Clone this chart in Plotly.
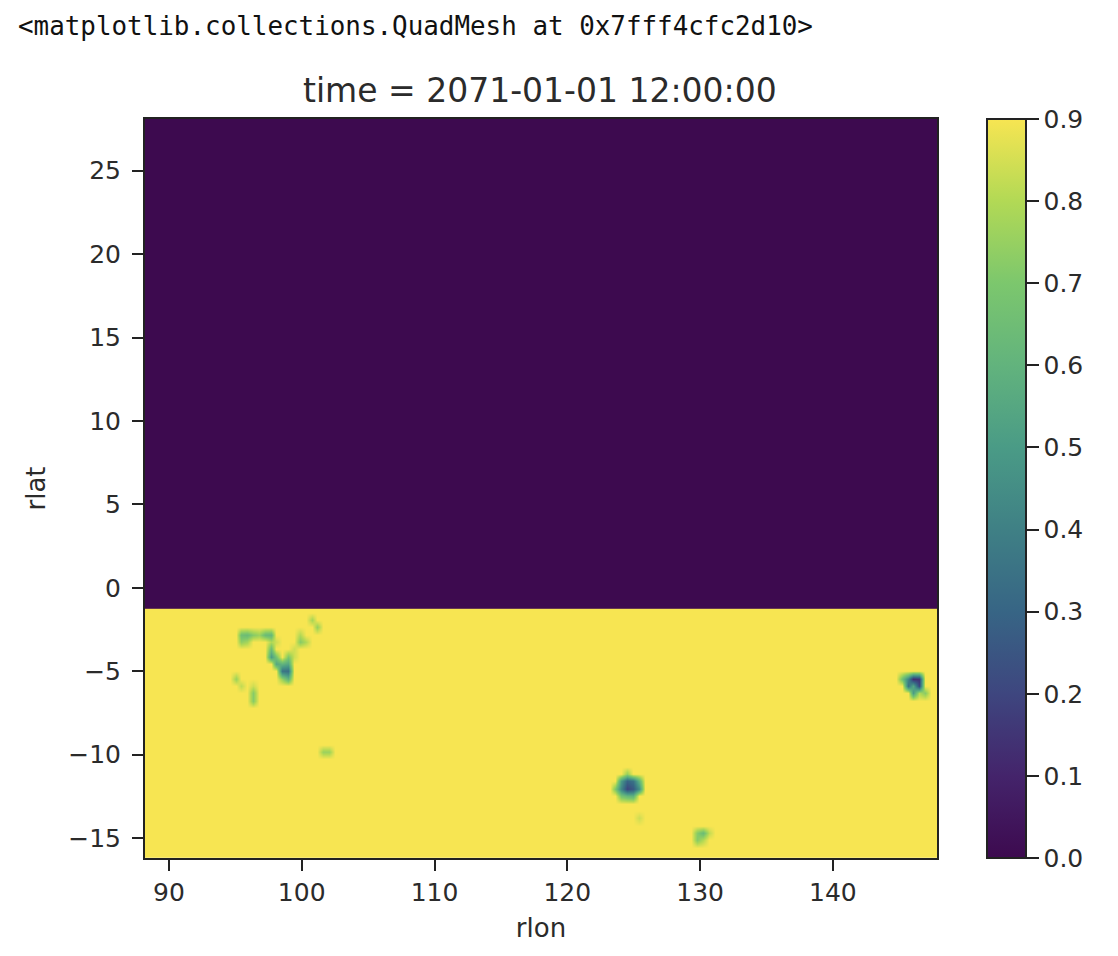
import numpy as np
import plotly.graph_objects as go

# Grid (cell centres, degrees)
rlon = np.arange(136) * 0.44 + 88.42
rlat = np.arange(101) * 0.44 - 16.0

# Field values
upper_value = 0.0
lower_value = 0.9
boundary_rlat = -1.25

# Local departures from the lower field: rlon, rlat, value
spot_rlon = [100.74, 101.18,
             95.46, 95.9, 96.34, 96.78, 97.22, 97.66, 95.46, 95.9,
             97.66, 98.1, 99.86, 99.86, 100.3, 99.42, 99.42,
             97.66, 97.66, 98.1, 98.1, 98.54, 98.54, 98.98, 98.98, 98.98, 98.98, 98.54,
             95.02, 95.46, 96.34, 96.34, 96.34,
             101.62, 102.06,
             124.46, 124.46, 124.9, 124.9, 124.02, 124.02, 125.34, 125.34, 123.58, 124.46, 124.02, 124.46, 124.9,
             125.34,
             130.22, 129.78, 129.78, 130.22, 130.66,
             145.18, 145.62, 146.06, 146.5, 145.62, 146.06, 146.5, 146.06, 146.5, 146.94]
spot_rlat = [-1.92, -2.36,
             -2.8, -2.8, -2.8, -2.8, -2.8, -2.8, -3.24, -3.24,
             -3.24, -3.24, -2.8, -3.24, -3.24, -3.68, -4.12,
             -3.68, -4.12, -4.12, -4.56, -4.56, -5.0, -5.0, -4.56, -4.12, -5.44, -5.44,
             -5.44, -5.88, -5.88, -6.32, -6.76,
             -10.04, -10.04,
             -11.6, -12.04, -11.6, -12.04, -11.6, -12.04, -11.6, -12.04, -12.04, -11.16, -12.48, -12.48, -12.48,
             -13.8,
             -14.68, -14.68, -15.12, -15.12, -14.68,
             -5.44, -5.44, -5.44, -5.44, -5.88, -5.88, -5.88, -6.32, -6.32, -6.32]
spot_value = [0.78, 0.75,
              0.66, 0.64, 0.72, 0.76, 0.64, 0.62, 0.74, 0.78,
              0.8, 0.84, 0.8, 0.72, 0.8, 0.84, 0.84,
              0.65, 0.5, 0.68, 0.55, 0.6, 0.36, 0.34, 0.55, 0.7, 0.6, 0.75,
              0.76, 0.82, 0.84, 0.72, 0.72,
              0.76, 0.76,
              0.3, 0.2, 0.35, 0.26, 0.5, 0.42, 0.6, 0.45, 0.7, 0.75, 0.68, 0.62, 0.6,
              0.84,
              0.64, 0.72, 0.72, 0.8, 0.82,
              0.66, 0.42, 0.12, 0.15, 0.35, 0.55, 0.2, 0.5, 0.8, 0.72]

title_text = "time = 2071-01-01 12:00:00"
output_text = "&lt;matplotlib.collections.QuadMesh at 0x7fff4cfc2d10&gt;"
x_ticks = [90, 100, 110, 120, 130, 140]
y_ticks = [-15, -10, -5, 0, 5, 10, 15, 20, 25]
cbar_ticks = [0.0, 0.1, 0.2, 0.3, 0.4, 0.5, 0.6, 0.7, 0.8, 0.9]
cbar_colors = ["#3d0a4f", "#44246b", "#3e467f", "#376585", "#3f8085",
               "#4a9b86", "#62b37d", "#7cc76d", "#b2d955", "#f7e552"]

field = np.where(rlat[:, None] < boundary_rlat, lower_value, upper_value) * np.ones((rlat.size, rlon.size))
for lon, lat, val in zip(spot_rlon, spot_rlat, spot_value):
    field[int(np.abs(rlat - lat).argmin()), int(np.abs(rlon - lon).argmin())] = val

W, H = 1118, 956
L, R, T, B = 145, 937, 119, 858
FONT = "DejaVu Sans"
INK = "#2b2b2b"
LINE = "#222222"
scale = [[i / 9, c] for i, c in enumerate(cbar_colors)]
lower = rlat < boundary_rlat

fig = go.Figure()
fig.add_trace(go.Heatmap(
    x=rlon, y=rlat[~lower], z=field[~lower], colorscale=scale, zmin=0, zmax=0.9, zsmooth=False,
    hoverinfo="skip",
    colorbar=dict(
        x=987 / W, xanchor="left", xref="paper", y=1 - B / H, yanchor="bottom", yref="paper",
        len=(B - T) / H, lenmode="fraction", thickness=39, thicknessmode="pixels",
        outlinecolor=LINE, outlinewidth=2, tickmode="array", tickvals=cbar_ticks,
        tickformat=".1f", ticks="outside", ticklen=12, tickwidth=2, tickcolor=LINE,
        tickfont=dict(family=FONT, size=25, color=INK), xpad=0, ypad=0,
    ),
))
fig.add_trace(go.Heatmap(
    x=rlon, y=rlat[lower], z=field[lower], colorscale=scale, zmin=0, zmax=0.9, zsmooth="best",
    hoverinfo="skip", showscale=False,
))
axis_common = dict(
    tickmode="array", ticks="outside", ticklen=11, tickwidth=2, tickcolor=LINE,
    showgrid=False, zeroline=False, showline=True, mirror=True, linecolor=LINE, linewidth=2,
    tickfont=dict(family=FONT, size=25, color=INK),
)
fig.update_layout(
    width=W, height=H, margin=dict(l=0, r=0, t=0, b=0),
    paper_bgcolor="white", plot_bgcolor="white", font=dict(family=FONT, color=INK),
    xaxis=dict(
        domain=[L / W, R / W], range=[88.2, 147.84], tickvals=x_ticks, **axis_common,
        title=dict(text="rlon", font=dict(family=FONT, size=26, color=INK), standoff=13),
    ),
    yaxis=dict(
        domain=[1 - B / H, 1 - T / H], range=[-16.2, 28.1], tickvals=y_ticks, **axis_common,
        ticklabelstandoff=6,
        title=dict(text="rlat", font=dict(family=FONT, size=26, color=INK), standoff=15),
    ),
    annotations=[
        dict(text=title_text, x=540 / W, y=1 - 90 / H, xref="paper", yref="paper",
             xanchor="center", yanchor="middle", showarrow=False,
             font=dict(family=FONT, size=33, color=INK)),
        dict(text=output_text, x=16 / W, y=1 - 26 / H, xref="paper", yref="paper",
             xanchor="left", yanchor="middle", showarrow=False,
             font=dict(family="DejaVu Sans Mono", size=25.9, color="#111111")),
    ],
)
fig.write_html("out.html", config=dict(displayModeBar=False),
               post_script="document.body.style.margin='0';document.body.style.overflow='hidden';")
